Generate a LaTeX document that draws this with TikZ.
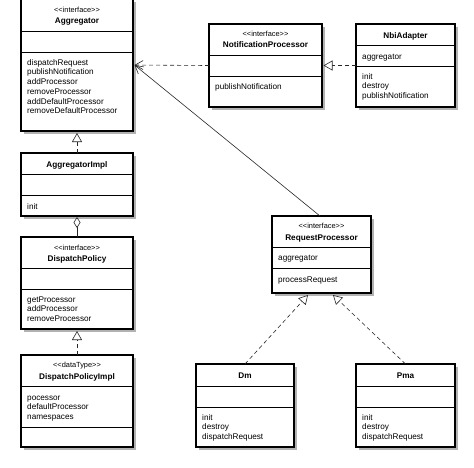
\documentclass[tikz,border=0pt]{standalone}
\usepackage{fontspec}
\newfontfamily\umlfont{Liberation Sans}
\usetikzlibrary{arrows.meta,shadows}
\newcommand\umlclass[7]{%
  \node[cls, minimum width={#4-#2}, minimum height={#5-#3}] (#1) at (#2,#3) {};
  \draw[sep] (#1.west |- 0,#6) -- (#1.east |- 0,#6);
  \draw[sep] (#1.west |- 0,#7) -- (#1.east |- 0,#7);
}
\newcommand\umlops[4]{%
  \foreach \t [count=\i] in {#4} {
    \node[txt, anchor=base west] (#1-\i) at (#2, {#3 + (\i-1)*9.7 + 3.2}) {\t};
  }
}
\begin{document}
\begin{tikzpicture}[x=1pt,y=-1pt,
  cls/.style={draw=black, line width=1.2pt, fill=white, anchor=north west,
    inner sep=0pt, outer sep=0pt,
    drop shadow={shadow xshift=3pt, shadow yshift=-3pt, fill=black!30, opacity=1}},
  sep/.style={line width=0.9pt},
  txt/.style={font=\umlfont\fontsize{8.2}{9.7}\selectfont, inner sep=0pt},
  bold/.style={font=\umlfont\bfseries\fontsize{8.2}{9.7}\selectfont, inner sep=0pt, anchor=base},
  st/.style={font=\umlfont\fontsize{7.4}{8}\selectfont, inner sep=0pt, anchor=base},
  conn/.style={line width=0.6pt, draw=black!85},
  real/.style={conn, dash pattern=on 4pt off 3pt, -{Triangle[length=9pt,width=10pt,fill=white]}},
  dep/.style={conn, dash pattern=on 4pt off 3pt, -{Straight Barb[length=8pt,width=9pt]}},
  assoc/.style={conn, -{Straight Barb[length=8pt,width=9pt]}},
  aggr/.style={conn, -{Diamond[length=11pt,width=7pt,fill=white]}},
]
\useasboundingbox (0,0) rectangle (474,467);

% Aggregator
\umlclass{agg}{21}{-1}{133}{131}{31}{52}
\node[st] (agg-st) at (77,12.7) {<<interface>>};
\node[bold] (agg-n) at (77,23.2) {Aggregator};
\umlops{agg-m}{27}{62}{dispatchRequest,publishNotification,addProcessor,removeProcessor,addDefaultProcessor,removeDefaultProcessor}

% AggregatorImpl
\umlclass{impl}{21}{153}{133}{216}{174}{195}
\node[bold] (impl-n) at (77,167.2) {AggregatorImpl};
\umlops{impl-m}{27}{206}{init}

% DispatchPolicy
\umlclass{dp}{21}{237}{133}{329}{268}{289}
\node[st] (dp-st) at (77,250.7) {<<interface>>};
\node[bold] (dp-n) at (77,261.2) {DispatchPolicy};
\umlops{dp-m}{27}{299}{getProcessor,addProcessor,removeProcessor}

% DispatchPolicyImpl
\umlclass{dpi}{21}{355}{133}{447}{386}{427}
\node[st] (dpi-st) at (77,367.7) {<<dataType>>};
\node[bold] (dpi-n) at (77,379.2) {DispatchPolicyImpl};
\umlops{dpi-m}{27}{397}{pocessor,defaultProcessor,namespaces}

% NotificationProcessor
\umlclass{np}{209}{24}{322}{107}{55}{76}
\node[st] (np-st) at (265.5,36.7) {<<interface>>};
\node[bold] (np-n) at (265.5,47.2) {NotificationProcessor};
\umlops{np-m}{215}{86}{publishNotification}

% NbiAdapter
\umlclass{nbi}{356}{24}{455}{107}{45}{66}
\node[bold] (nbi-n) at (405.5,38.2) {NbiAdapter};
\umlops{nbi-a}{362}{56}{aggregator}
\umlops{nbi-m}{362}{76}{init,destroy,publishNotification}

% RequestProcessor
\umlclass{rp}{272}{216}{371}{293}{247}{268}
\node[st] (rp-st) at (321.5,228.7) {<<interface>>};
\node[bold] (rp-n) at (321.5,240.2) {RequestProcessor};
\umlops{rp-a}{278}{257}{aggregator}
\umlops{rp-m}{278}{279}{processRequest}

% Dm
\umlclass{dm}{196}{364}{294}{447}{386}{407}
\node[bold] (dm-n) at (245,378.2) {Dm};
\umlops{dm-m}{202}{417}{init,destroy,dispatchRequest}

% Pma
\umlclass{pma}{356}{364}{455}{447}{386}{407}
\node[bold] (pma-n) at (405.5,378.2) {Pma};
\umlops{pma-m}{362}{417}{init,destroy,dispatchRequest}

% connectors
\draw[real] (impl.north) -- ([yshift=-2pt]agg.south);
\draw[aggr] (dp.north) -- ([yshift=-1pt]impl.south);
\draw[real] (dpi.north) -- ([yshift=-2pt]dp.south);
\draw[real] (nbi.west) -- ([xshift=1.5pt]np.east);
\draw[dep] (np.west) -- ([xshift=1.5pt]agg.east);
\draw[assoc] ([xshift=-1.5pt]rp.north) -- ([xshift=1.5pt]agg.east);
\draw[real] (dm.north) -- ([xshift=-13.5pt,yshift=-2pt]rp.south);
\draw[real] (pma.north) -- ([xshift=11.5pt,yshift=-2pt]rp.south);
\end{tikzpicture}
\end{document}
